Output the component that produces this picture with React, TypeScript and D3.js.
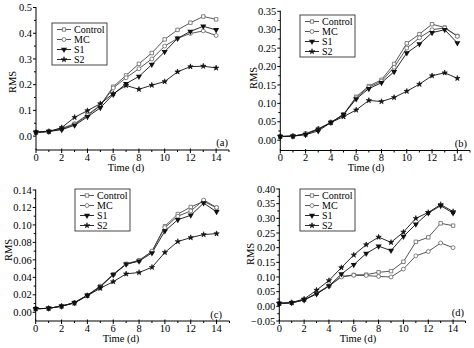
import React from 'react';
import * as d3 from 'd3';

const days = [0, 1, 2, 3, 4, 5, 6, 7, 8, 9, 10, 11, 12, 13, 14];
const seriesNames = ['Control', 'MC', 'S1', 'S2'];

const aControl = [0.015, 0.018, 0.030, 0.048, 0.083, 0.120, 0.192, 0.236, 0.281, 0.323, 0.376, 0.413, 0.441, 0.465, 0.454];
const aMC = [0.015, 0.018, 0.028, 0.046, 0.080, 0.118, 0.187, 0.227, 0.262, 0.300, 0.350, 0.380, 0.399, 0.409, 0.391];
const aS1 = [0.015, 0.018, 0.025, 0.042, 0.075, 0.110, 0.162, 0.204, 0.232, 0.278, 0.328, 0.380, 0.407, 0.427, 0.413];
const aS2 = [0.015, 0.018, 0.033, 0.073, 0.099, 0.126, 0.165, 0.197, 0.182, 0.198, 0.212, 0.250, 0.270, 0.272, 0.265];

const bControl = [0.010, 0.011, 0.018, 0.031, 0.048, 0.070, 0.118, 0.147, 0.164, 0.207, 0.263, 0.288, 0.315, 0.306, 0.283];
const bMC = [0.010, 0.011, 0.017, 0.029, 0.048, 0.069, 0.115, 0.144, 0.160, 0.198, 0.250, 0.278, 0.300, 0.305, 0.282];
const bS1 = [0.010, 0.011, 0.015, 0.025, 0.048, 0.070, 0.112, 0.140, 0.156, 0.186, 0.237, 0.261, 0.292, 0.300, 0.264];
const bS2 = [0.010, 0.011, 0.016, 0.030, 0.048, 0.064, 0.082, 0.108, 0.105, 0.116, 0.133, 0.152, 0.175, 0.183, 0.168];

const cControl = [0.0040, 0.0045, 0.0070, 0.0110, 0.0195, 0.0300, 0.0435, 0.0555, 0.0595, 0.0695, 0.0985, 0.1125, 0.1205, 0.1270, 0.1195];
const cMC = [0.0040, 0.0045, 0.0070, 0.0110, 0.0195, 0.0295, 0.0430, 0.0550, 0.0590, 0.0700, 0.0970, 0.1100, 0.1160, 0.1285, 0.1200];
const cS1 = [0.0040, 0.0045, 0.0070, 0.0110, 0.0195, 0.0290, 0.0430, 0.0550, 0.0585, 0.0680, 0.0930, 0.1060, 0.1110, 0.1250, 0.1150];
const cS2 = [0.0040, 0.0045, 0.0070, 0.0105, 0.0190, 0.0275, 0.0350, 0.0440, 0.0455, 0.0515, 0.0685, 0.0810, 0.0855, 0.0890, 0.0900];

const dControl = [0.010, 0.012, 0.022, 0.045, 0.070, 0.102, 0.107, 0.108, 0.116, 0.120, 0.152, 0.220, 0.235, 0.283, 0.275];
const dMC = [0.010, 0.012, 0.022, 0.043, 0.069, 0.100, 0.106, 0.105, 0.102, 0.100, 0.127, 0.172, 0.187, 0.216, 0.200];
const dS1 = [0.010, 0.012, 0.022, 0.042, 0.069, 0.110, 0.142, 0.180, 0.205, 0.190, 0.238, 0.280, 0.318, 0.343, 0.318];
const dS2 = [0.010, 0.013, 0.025, 0.055, 0.088, 0.132, 0.175, 0.210, 0.236, 0.218, 0.253, 0.300, 0.320, 0.347, 0.323];

const xTicks = [0, 2, 4, 6, 8, 10, 12, 14];
const xMinor = [1, 3, 5, 7, 9, 11, 13, 15];
const aYTicks = [0, 0.1, 0.2, 0.3, 0.4, 0.5];
const bYTicks = [0, 0.05, 0.1, 0.15, 0.2, 0.25, 0.3, 0.35];
const cYTicks = [0, 0.02, 0.04, 0.06, 0.08, 0.1, 0.12, 0.14];
const dYTicks = [-0.05, 0, 0.05, 0.1, 0.15, 0.2, 0.25, 0.3, 0.35, 0.4];

const FONT = '"Liberation Serif", "Times New Roman", serif';

type PanelCfg = {
  label: string;
  series: number[][];
  yDomain: [number, number];
  yRange: [number, number];
  xRange: [number, number];
  yTicks: number[];
  yMinorStep: number;
  fmt: string;
  legend: [number, number];
  ylabel: [number, number];
  xlabelX: number;
  tag: [number, number];
};

const panels: PanelCfg[] = [
  { label: '(a)', series: [aControl, aMC, aS1, aS2], yDomain: [-0.054, 0.5], yRange: [150, 7.5], xRange: [36, 229], yTicks: aYTicks, yMinorStep: 0.05, fmt: '.1f', legend: [52, 23], ylabel: [12, 82], xlabelX: 126, tag: [228, 146] },
  { label: '(b)', series: [bControl, bMC, bS1, bS2], yDomain: [-0.028, 0.35], yRange: [150.5, 11.3], xRange: [280.3, 470], yTicks: bYTicks, yMinorStep: 0.025, fmt: '.2f', legend: [300, 15], ylabel: [253, 78], xlabelX: 366, tag: [467, 147] },
  { label: '(c)', series: [cControl, cMC, cS1, cS2], yDomain: [-0.01, 0.14], yRange: [321, 190], xRange: [35.7, 229.5], yTicks: cYTicks, yMinorStep: 0.01, fmt: '.2f', legend: [75, 189], ylabel: [8, 250], xlabelX: 121, tag: [222, 318] },
  { label: '(d)', series: [dControl, dMC, dS1, dS2], yDomain: [-0.05, 0.40], yRange: [321, 189], xRange: [279.3, 465.5], yTicks: dYTicks, yMinorStep: 0.025, fmt: '.2f', legend: [300, 189], ylabel: [250, 254], xlabelX: 358, tag: [464, 316] },
];

const symSquare = d3.symbol().type(d3.symbolSquare).size(12)() as string;
const symCircle = d3.symbol().type(d3.symbolCircle).size(12)() as string;
const symTri = d3.symbol().type(d3.symbolTriangle).size(16)() as string;
const symStar = d3.symbol().type(d3.symbolStar).size(9)() as string;

function Marker({ i, x, y }: { i: number; x: number; y: number }) {
  if (i === 0) return <path d={symSquare} transform={`translate(${x},${y})`} fill="#fff" stroke="#666" strokeWidth={0.8} />;
  if (i === 1) return <path d={symCircle} transform={`translate(${x},${y})`} fill="#fff" stroke="#666" strokeWidth={0.8} />;
  if (i === 2) return <path d={symTri} transform={`translate(${x},${y}) rotate(180)`} fill="#111" stroke="none" />;
  return <path d={symStar} transform={`translate(${x},${y})`} fill="#111" stroke="#111" strokeWidth={0.6} />;
}

function Panel({ cfg }: { cfg: PanelCfg }) {
  const x = d3.scaleLinear().domain([0, 15]).range(cfg.xRange);
  const y = d3.scaleLinear().domain(cfg.yDomain).range(cfg.yRange);
  const f = d3.format(cfg.fmt);
  const yTop = cfg.yTicks[cfg.yTicks.length - 1];
  const yBot = cfg.yRange[0];
  const x0 = cfg.xRange[0];
  const minorY = d3.range(cfg.yTicks[0] + cfg.yMinorStep, yTop, cfg.yMinorStep * 2);
  const line = d3.line<number>().x((_, k) => x(days[k])).y((v) => y(v));
  const [lx, ly] = cfg.legend;
  return (
    <g>
      {cfg.series.map((s, i) => (
        <path key={i} d={line(s) as string} fill="none" stroke={i < 2 ? '#444' : '#111'} strokeWidth={0.9} />
      ))}
      {cfg.series.map((s, i) => s.map((v, k) => <Marker key={`${i}-${k}`} i={i} x={x(days[k])} y={y(v)} />))}
      <line x1={x0} x2={x0} y1={yBot} y2={y(yTop) - 0.5} stroke="#000" strokeWidth={1} />
      <line x1={x0} x2={cfg.xRange[1]} y1={yBot} y2={yBot} stroke="#000" strokeWidth={1} />
      {cfg.yTicks.map((t) => (
        <g key={t}>
          <line x1={x0 - 3} x2={x0} y1={y(t)} y2={y(t)} stroke="#000" />
          <text x={x0 - 4} y={y(t)} dy="0.35em" textAnchor="end" fontSize={10.5} fontFamily={FONT}>{f(t)}</text>
        </g>
      ))}
      {minorY.map((t) => (
        <line key={t} x1={x0 - 2} x2={x0} y1={y(t)} y2={y(t)} stroke="#000" />
      ))}
      {xTicks.map((t) => (
        <g key={t}>
          <line x1={x(t)} x2={x(t)} y1={yBot - 1.5} y2={yBot + 3} stroke="#000" />
          <text x={x(t)} y={yBot + 10.5} textAnchor="middle" fontSize={10.5} fontFamily={FONT}>{t}</text>
        </g>
      ))}
      {xMinor.map((t) => (
        <line key={t} x1={x(t)} x2={x(t)} y1={yBot} y2={yBot + 2} stroke="#000" />
      ))}
      <text x={cfg.xlabelX} y={yBot + 20.5} textAnchor="middle" fontSize={10.5} fontFamily={FONT}>Time (d)</text>
      <text transform={`translate(${cfg.ylabel[0]},${cfg.ylabel[1]}) rotate(-90)`} textAnchor="middle" dy="0.35em" fontSize={10.5} fontFamily={FONT}>RMS</text>
      <text x={cfg.tag[0]} y={cfg.tag[1]} textAnchor="end" fontSize={10.5} fontFamily={FONT}>{cfg.label}</text>
      <rect x={lx} y={ly} width={55} height={42} fill="#fff" stroke="#333" strokeWidth={0.9} />
      {seriesNames.map((n, i) => {
        const yy = ly + 6.5 + i * 10;
        return (
          <g key={n}>
            <line x1={lx + 5} x2={lx + 19} y1={yy} y2={yy} stroke={i < 2 ? '#444' : '#111'} strokeWidth={0.9} />
            <Marker i={i} x={lx + 12} y={yy} />
            <text x={lx + 22} y={yy} dy="0.35em" fontSize={10} fontFamily={FONT}>{n}</text>
          </g>
        );
      })}
    </g>
  );
}

export default function App() {
  return (
    <svg width={474} height={348} style={{ position: 'absolute', left: 0, top: 0, background: '#fff' }}>
      <rect width={474} height={348} fill="#fff" />
      {panels.map((p) => <Panel key={p.label} cfg={p} />)}
    </svg>
  );
}
